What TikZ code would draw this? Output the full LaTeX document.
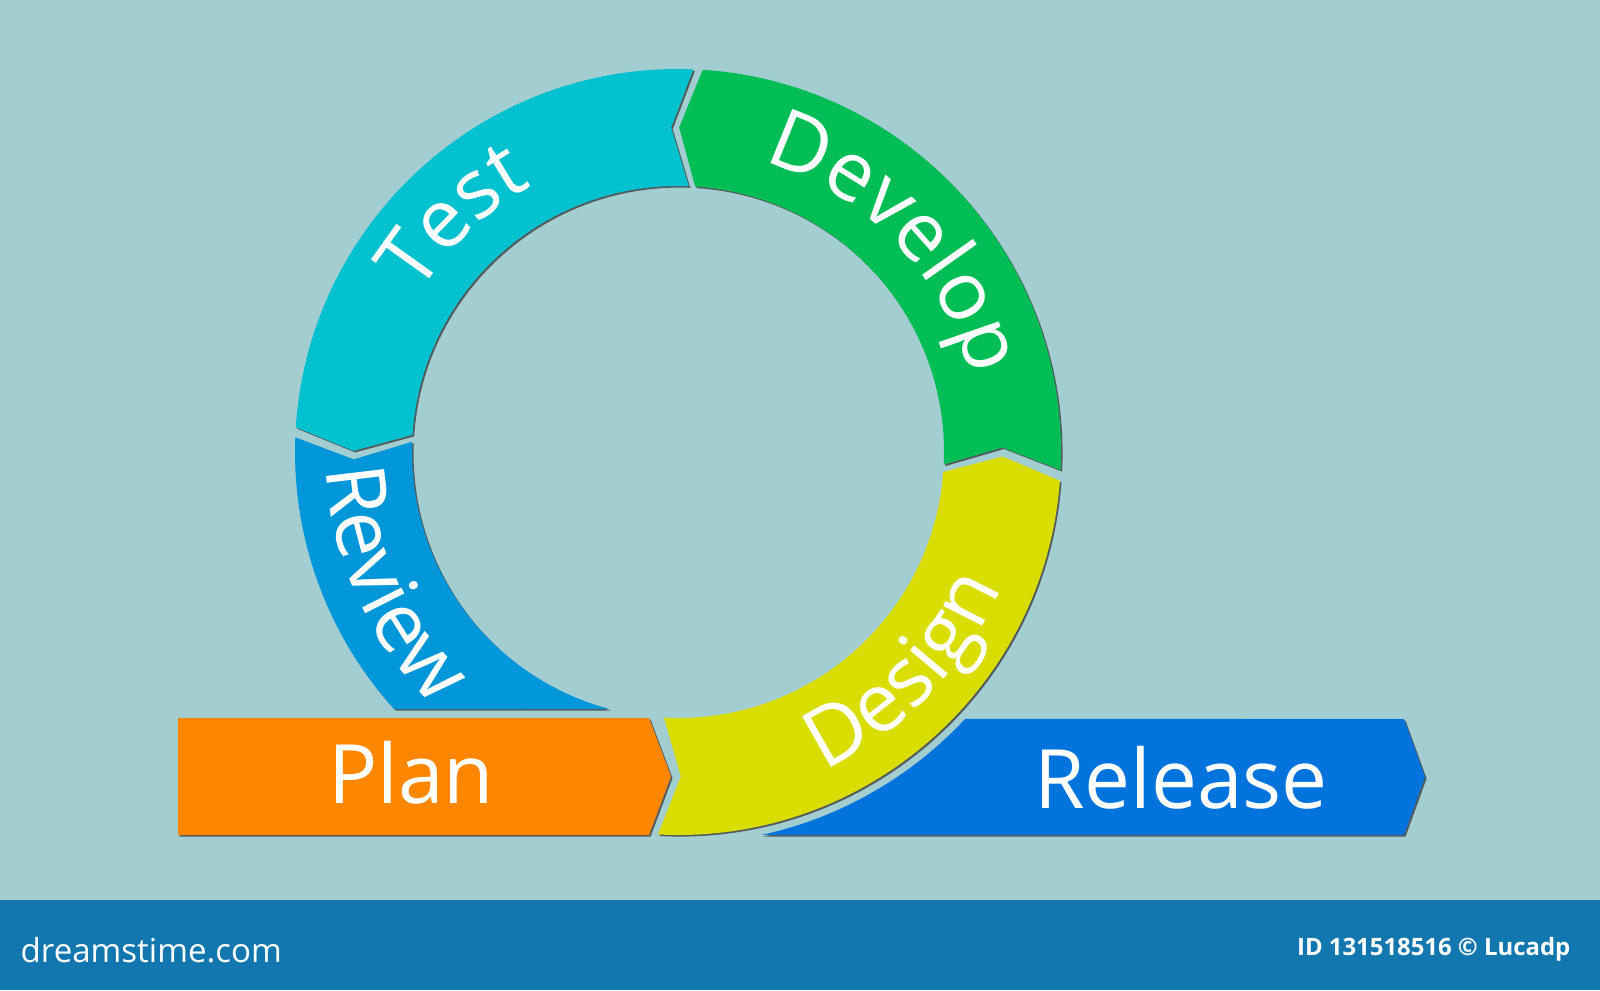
\documentclass[tikz,border=0pt]{standalone}
\usepackage{fontspec}
\setmainfont{Open Sans}
\usepackage{tikz}
\usetikzlibrary{calc, decorations.text, shadows}

\definecolor{bgteal}{HTML}{A2CDD1}
\definecolor{barblue}{HTML}{1277AF}
\definecolor{testcyan}{HTML}{00C1CF}
\definecolor{devgreen}{HTML}{00BE55}
\definecolor{designyellow}{HTML}{D9DD00}
\definecolor{reviewblue}{HTML}{0096DA}
\definecolor{planorange}{HTML}{FF8700}
\definecolor{releaseblue}{HTML}{0073DC}

\newcommand{\stagefont}{\fontsize{23.3pt}{28pt}\selectfont}

\tikzset{
  stage/.style={drop shadow={shadow xshift=0.45pt, shadow yshift=-0.45pt, fill=black!75, opacity=0.8}},
  arctext/.style={decorate, decoration={text along path, text align=center, text color=white, text={|\stagefont|#1}}},
  boxtext/.style={text=white, font=\stagefont, inner sep=0pt, anchor=base}
}

\begin{document}
\begin{tikzpicture}[x=0.01cm, y=0.01cm]
%the background
\fill[bgteal] (0,0) rectangle (1600,990);
\fill[barblue] (0,0) rectangle (1600,90);

\begin{scope}[shift={(678,538)}]
%the ring
\fill[stage, designyellow] (267:383) arc[start angle=267, end angle=355.7, radius=383] -- (359.2:324.5)
  -- (355.7:266) arc[start angle=355.7, end angle=267, radius=266] -- (270.5:324.5) -- cycle;
\fill[stage, devgreen] (-2.7:383) arc[start angle=-2.7, end angle=86.3, radius=383] -- (89.8:324.5)
  -- (86.3:266) arc[start angle=86.3, end angle=-2.7, radius=266] -- (0.8:324.5) -- cycle;
\fill[stage, testcyan] (87.7:383) arc[start angle=87.7, end angle=176.3, radius=383] -- (179.8:324.5)
  -- (176.3:266) arc[start angle=176.3, end angle=87.7, radius=266] -- (91.2:324.5) -- cycle;
\fill[stage, reviewblue] (177.8:383) arc[start angle=177.8, end angle=222.15, radius=383]
  -- (255.04:266) arc[start angle=255.04, end angle=177.8, radius=266] -- (181.3:324.5) -- cycle;

%the two arrows
\fill[stage, planorange] (-500,-266) -- (-29,-266) -- (-7,-324.5) -- (-29,-383) -- (-500,-383) -- cycle;
\fill[stage, releaseblue] (-77.7:392) arc[start angle=-77.7, end angle=-42.93, radius=392]
  -- (726,-267) -- (747,-325) -- (726,-383) -- cycle;

%the labels
\path[arctext=Test] (178.7:303) arc[start angle=178.7, end angle=88.7, radius=303];
\path[arctext=Develop] (89:302) arc[start angle=89, end angle=-1, radius=302];
\path[arctext=Design] (-89:350) arc[start angle=-89, end angle=1, radius=350];
\path[arctext=Review] (180:352) arc[start angle=180, end angle=229, radius=352];
\node[boxtext] (plan) at (-267,-351) {Plan};
\node[boxtext] (release) at (503,-356) {Release};
\end{scope}

%the credit bar
\node[text=white, anchor=base west, inner sep=0pt, font=\fontsize{9.4pt}{11pt}\selectfont] (site) at (20,28) {dreamstime.com};
\node[text=white, anchor=base east, inner sep=0pt, font=\bfseries\fontsize{6.8pt}{8pt}\selectfont] (photoid) at (1571,35) {ID 131518516 © Lucadp};
\end{tikzpicture}
\end{document}
